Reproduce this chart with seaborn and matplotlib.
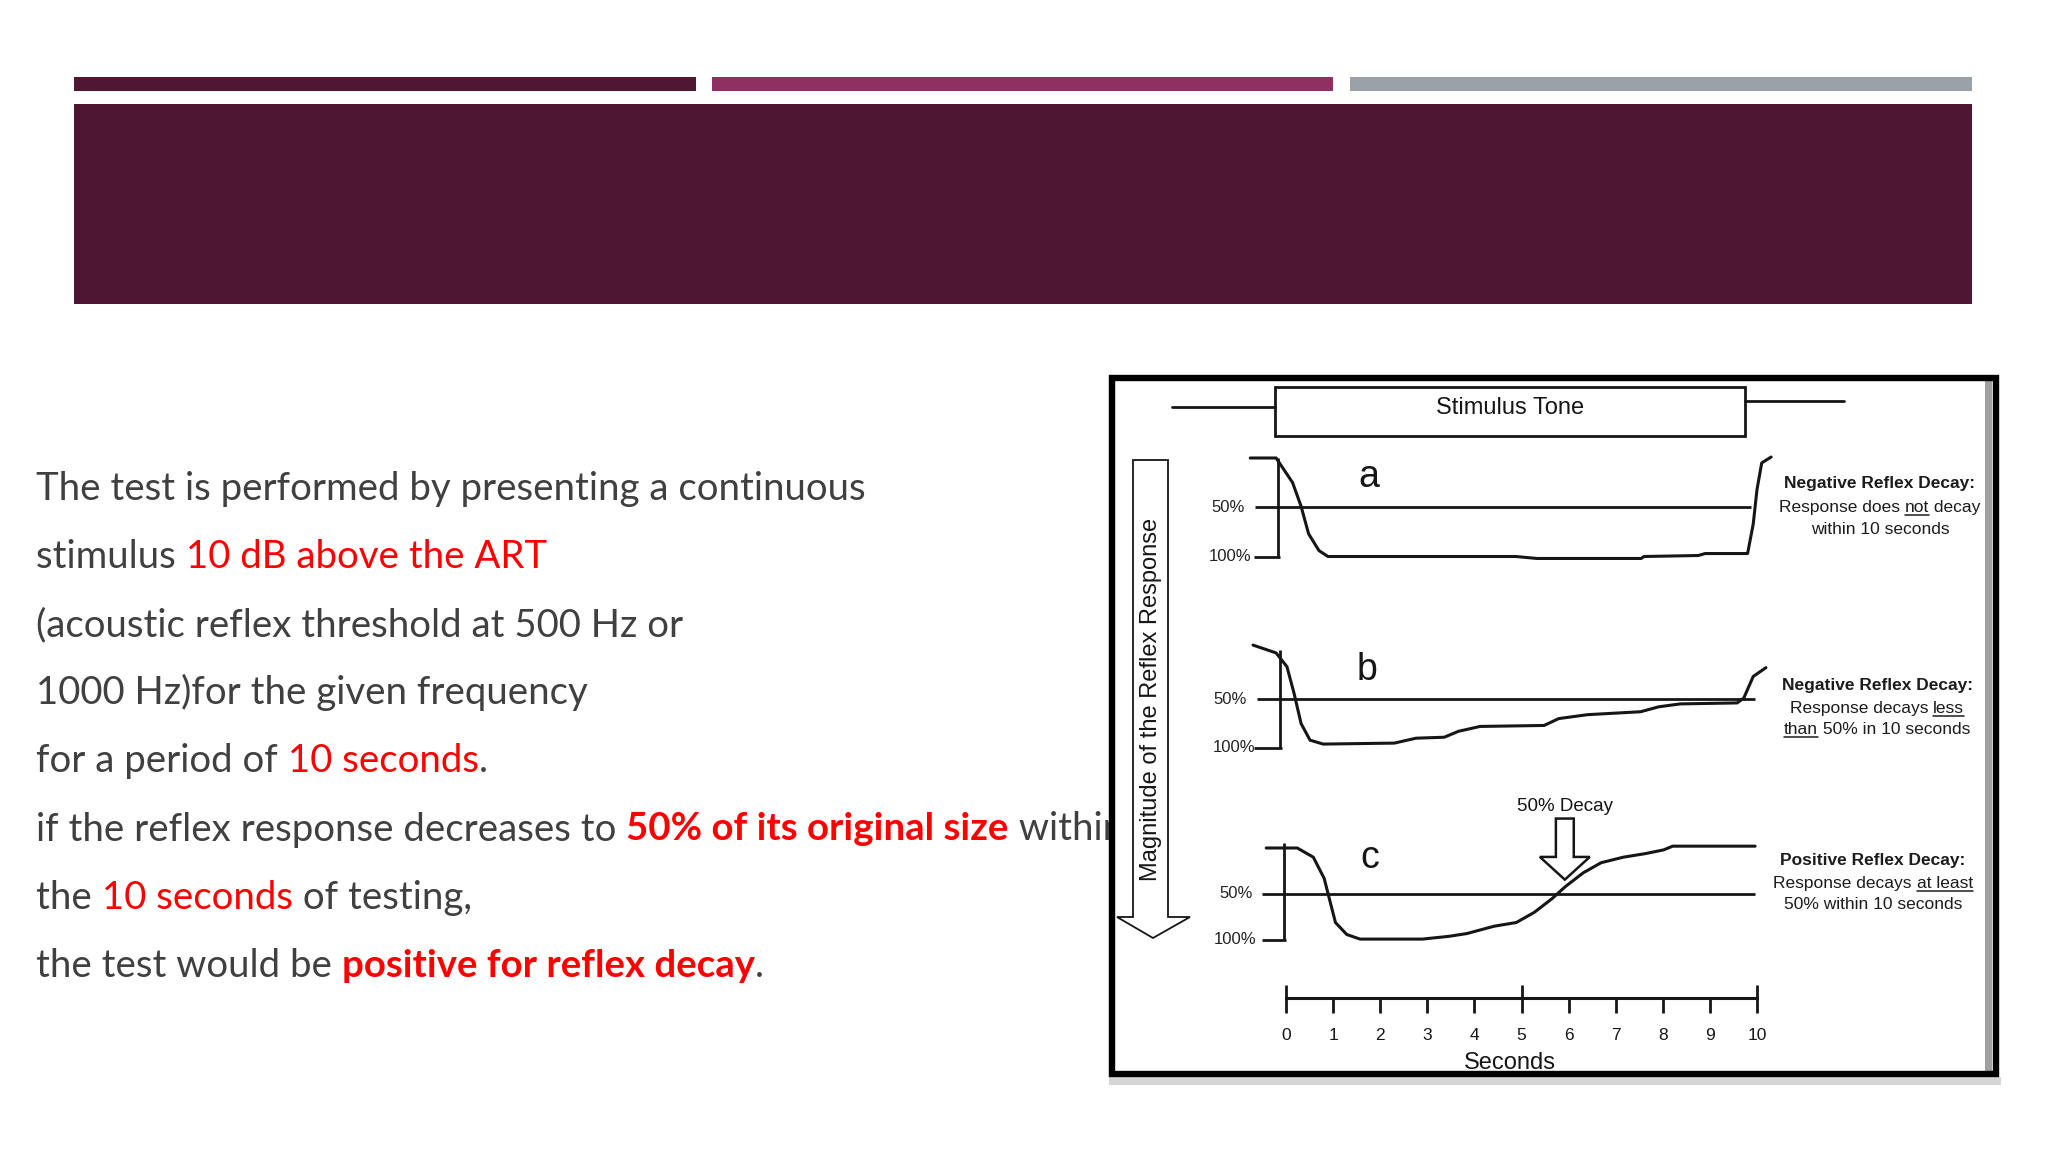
import matplotlib
matplotlib.use("Agg")
import matplotlib.pyplot as plt
import matplotlib.patches as mpatches
import seaborn as sns

W, H = 2048, 1152

# slide text: each line is a list of (text, colour, bold) runs
GREY, RED = "#404040", "#ff0000"
slide_lines = [
    [("The test is performed by presenting a continuous", GREY, False)],
    [("stimulus ", GREY, False), ("10 dB above the ART", RED, False)],
    [("(acoustic reflex threshold at 500 Hz or", GREY, False)],
    [("1000 Hz)for the given frequency", GREY, False)],
    [("for a period of ", GREY, False), ("10 seconds", RED, False), (".", GREY, False)],
    [("if the reflex response decreases to ", GREY, False),
     ("50% of its original size", RED, True), (" within", GREY, False)],
    [("the ", GREY, False), ("10 seconds", RED, False), (" of testing,", GREY, False)],
    [("the test would be ", GREY, False), ("positive for reflex decay", RED, True), (".", GREY, False)],
]

# reflex traces: time in seconds, magnitude in % of the reflex response
a_time = [-0.76, -0.21, 0.14, 0.32, 0.48, 0.70, 0.89, 4.88, 5.33, 7.54, 7.60, 8.75, 8.90, 9.80, 9.92, 10.0, 10.1, 10.3]
a_mag = [0, 0, 25, 49, 77, 94, 100, 100, 102, 102, 100, 99, 97, 97, 67, 32, 5, -1]

b_time = [-0.70, -0.21, 0.02, 0.17, 0.32, 0.51, 0.79, 2.30, 2.76, 3.36, 3.66, 4.12, 5.48, 5.79,
          6.40, 7.53, 7.91, 8.37, 9.58, 9.72, 9.92, 10.19]
b_mag = [-5, 3, 17, 44, 75, 92, 96, 95, 90, 89, 83, 78, 77, 70, 66, 63, 58, 55, 54, 49, 27, 18]

c_time = [-0.42, 0.24, 0.58, 0.81, 0.92, 1.05, 1.29, 1.57, 2.90, 3.46, 3.84, 4.42, 4.89, 5.27,
          5.65, 5.93, 6.31, 6.69, 7.16, 7.64, 8.02, 8.21, 9.96]
c_mag = [0, 0, 10, 33, 55, 81, 94, 99, 99, 96, 93, 85, 81, 70, 55, 42, 27, 16, 10, 6, 2, -2, -2]

panel_names = ["a", "b", "c"]
ref_start = [-0.66, -0.62, -0.51]   # 50% reference lines
ref_end = [9.87, 9.96, 9.96]
bracket_x = [-0.17, -0.13, -0.04]
bracket_top = [0, 0, -5]
tick100_start = [-0.68, -0.68, -0.51]
label50_x = [-0.87, -0.83, -0.70]
label100_x = [-0.74, -0.66, -0.62]

stim_on, stim_off = -0.23, 9.75
stim_lead = [-2.42, 11.85]
decay_time = 5.92

seconds = list(range(11))
major_seconds = [0, 5, 10]

notes = [
    [[("Negative Reflex Decay:", True, False)],
     [("Response does ", False, False), ("not", False, True), (" decay", False, False)],
     [("within 10 seconds", False, False)]],
    [[("Negative Reflex Decay:", True, False)],
     [("Response decays ", False, False), ("less", False, True)],
     [("than", False, True), (" 50% in 10 seconds", False, False)]],
    [[("Positive Reflex Decay:", True, False)],
     [("Response decays ", False, False), ("at least", False, True)],
     [("50% within 10 seconds", False, False)]],
]
notes_x = [1880, 1877, 1873]
notes_y = [[483, 507, 529], [685, 708, 729], [860, 883, 904]]

sns.set_theme(style="white")
plt.rcParams["font.family"] = ["Liberation Sans", "DejaVu Sans"]
INK = "#161616"
BODY = ["Lato", "DejaVu Sans"]
DIAG = ["Liberation Sans", "DejaVu Sans"]

fig = plt.figure(figsize=(W / 100, H / 100), dpi=100, facecolor="white")
bg = fig.add_axes([0, 0, 1, 1], zorder=0)
bg.set_xlim(0, W)
bg.set_ylim(H, 0)
bg.set_axis_off()
renderer = fig.canvas.get_renderer()


def run_width(s, size, bold, family):
    t = bg.text(0, 0, "|" + s + "|", fontsize=size, family=family,
                fontweight="bold" if bold else "normal")
    w = t.get_window_extent(renderer).width
    t.set_text("||")
    w -= t.get_window_extent(renderer).width
    t.remove()
    return w


# header bars
bg.add_patch(mpatches.Rectangle((74, 77), 622, 14, color="#4f1732", lw=0))
bg.add_patch(mpatches.Rectangle((712, 77), 621, 14, color="#8e3062", lw=0))
bg.add_patch(mpatches.Rectangle((1350, 77), 622, 14, color="#9aa1a9", lw=0))
bg.add_patch(mpatches.Rectangle((74, 104), 1898, 200, color="#4e1631", lw=0))

# left body text
body_size = 24 * 828 / run_width(slide_lines[0][0][0], 24, False, BODY)
for i, runs in enumerate(slide_lines):
    x = 36
    y = 500 + i * 68.1
    for text, col, bold in runs:
        bg.text(x, y, text, fontsize=body_size, family=BODY, color=col,
                fontweight="bold" if bold else "normal", va="baseline", zorder=1)
        x += run_width(text, body_size, bold, BODY)

# picture frame
bg.add_patch(mpatches.Rectangle((1109, 375), 890, 702, facecolor="white", lw=0, zorder=2))
bg.add_patch(mpatches.Rectangle((1109, 1077), 892, 8, facecolor="#d6d6d6", lw=0, zorder=2))
bg.add_patch(mpatches.Rectangle((1985, 380), 7, 694, facecolor="#a0a0a0", lw=0, zorder=2))
bg.add_patch(mpatches.Rectangle((1112, 378), 884, 696, facecolor="none",
                                edgecolor="black", lw=4.6, zorder=2.5))

# magnitude arrow on the left of the diagram
arrow_pts = [(1133, 460), (1168, 460), (1168, 917), (1190, 917), (1153, 938),
             (1117, 917), (1133, 917)]
bg.add_patch(mpatches.Polygon(arrow_pts, closed=True, facecolor="white",
                              edgecolor=INK, lw=1.3, zorder=2.6))
bg.text(1151, 699, "Magnitude of the Reflex Response", rotation=90, ha="center",
        va="center", fontsize=17, family=DIAG, color=INK, zorder=2.7)

# right-hand notes
for block, cx, ys in zip(notes, notes_x, notes_y):
    for runs, yc in zip(block, ys):
        size = 12.5
        widths = [run_width(t, size, b, DIAG) for t, b, u in runs]
        x = cx - sum(widths) / 2
        yb = yc + 5
        for (t, b, u), w in zip(runs, widths):
            bg.text(x, yb, t, fontsize=size, family=DIAG, color="#1c1c1c",
                    fontweight="bold" if b else "normal", va="baseline", zorder=3)
            if u:
                lead = run_width(t.strip(), size, b, DIAG)
                bg.plot([x, x + lead], [yb + 3, yb + 3], color="#1c1c1c", lw=1.1, zorder=3)
            x += w

# diagram axes share one time scale
T0_PX, PX_PER_S = 1286, 47.1
S_MIN, S_MAX = -1.0, 10.5
X0, X1 = T0_PX + S_MIN * PX_PER_S, T0_PX + S_MAX * PX_PER_S


def px_axes(top, bottom):
    ax = fig.add_axes([X0 / W, 1 - bottom / H, (X1 - X0) / W, (bottom - top) / H], zorder=3)
    ax.set_xlim(S_MIN, S_MAX)
    ax.set_axis_off()
    return ax


def panel_axes(p0, p100, top, bottom):
    ax = px_axes(top, bottom)
    k = (p100 - p0) / 100
    ax.set_ylim((bottom - p0) / k, (top - p0) / k)
    return ax


# stimulus tone
st = px_axes(387, 436)
st.set_ylim(0, 1)
st.add_patch(mpatches.Rectangle((stim_on, 0), stim_off - stim_on, 1, facecolor="none",
                                edgecolor=INK, lw=2, clip_on=False))
st.plot([stim_lead[0], stim_on], [0.59, 0.59], color=INK, lw=2, clip_on=False)
st.plot([stim_off, stim_lead[1]], [0.71, 0.71], color=INK, lw=2, clip_on=False)
st.text((stim_on + stim_off) / 2, 0.57, "Stimulus Tone", ha="center", va="center",
        fontsize=17, family=DIAG, color=INK)

panels = [
    (panel_axes(458, 556.5, 440, 580), a_time, a_mag),
    (panel_axes(650, 748, 620, 770), b_time, b_mag),
    (panel_axes(848, 940, 790, 960), c_time, c_mag),
]
letter_pos = [(1.76, 19), (1.73, 20), (1.78, 11)]
for i, (ax, t, m) in enumerate(panels):
    sns.lineplot(x=t, y=m, ax=ax, color=INK, lw=2.2, sort=False, estimator=None)
    ax.hlines(50, ref_start[i], ref_end[i], color=INK, lw=2)
    ax.vlines(bracket_x[i], bracket_top[i], 100, color=INK, lw=2)
    ax.hlines(100, tick100_start[i], bracket_x[i] + 0.05, color=INK, lw=2)
    ax.text(label50_x[i], 50, "50%", ha="right", va="center", fontsize=12,
            family=DIAG, color="#222222")
    ax.text(label100_x[i], 100, "100%", ha="right", va="center", fontsize=12,
            family=DIAG, color="#222222")
    ax.text(*letter_pos[i], panel_names[i], ha="center", va="center", fontsize=27,
            family=DIAG, color=INK)
    for line in ax.get_lines():
        line.set_clip_on(False)
    for coll in ax.collections:
        coll.set_clip_on(False)

# 50% decay marker on trace c
ax_c = panels[2][0]
ax_c.add_patch(mpatches.FancyArrow(decay_time, -32, 0, 66.4, width=0.38, head_width=1.06,
                                   head_length=24.7, length_includes_head=True,
                                   facecolor="white", edgecolor=INK, lw=1.8, clip_on=False))
ax_c.text(decay_time, -44.6, "50% Decay", ha="center", va="center", fontsize=13.5,
          family=DIAG, color=INK)

# time axis
tl = fig.add_axes([X0 / W, 1 - 998 / H, (X1 - X0) / W, 13 / H], zorder=3)
tl.set_xlim(S_MIN, S_MAX)
tl.set_ylim(0, 1)
tl.patch.set_visible(False)
for side in ["top", "left", "right"]:
    tl.spines[side].set_visible(False)
tl.spines["bottom"].set_bounds(0, 10)
tl.spines["bottom"].set_linewidth(2.2)
tl.spines["bottom"].set_color(INK)
tl.set_yticks([])
tl.set_xticks(seconds, labels=[str(s) for s in seconds])
tl.tick_params(axis="x", direction="out", length=10.8, width=2, pad=11, labelsize=12.5,
               colors=INK, bottom=True)
for lab in tl.get_xticklabels():
    lab.set_family(DIAG)
tl.vlines(major_seconds, 0, 1, color=INK, lw=2, clip_on=False)
tl.set_xlabel("Seconds", fontsize=17, labelpad=6, color=INK, family=DIAG)

fig.savefig("out.png", dpi=100, facecolor="white")
